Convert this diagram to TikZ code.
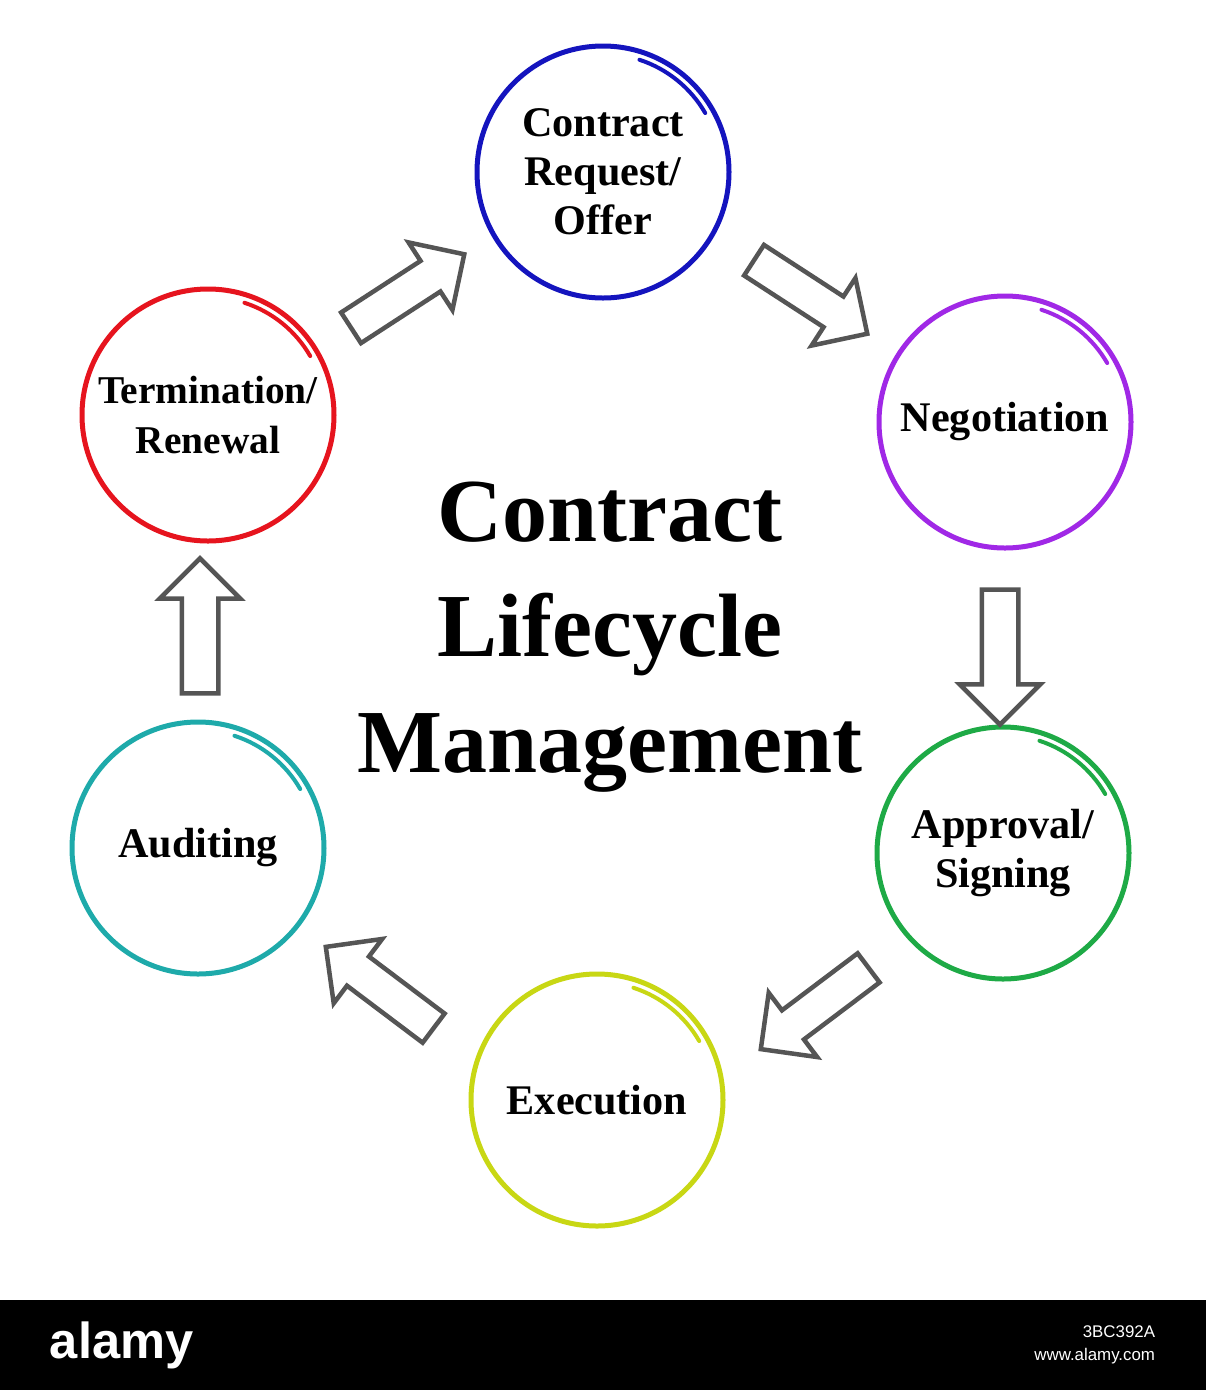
\documentclass[tikz,border=0pt]{standalone}
\usepackage{fontspec}
\setmainfont{Liberation Serif}
\newfontfamily\sansf{Liberation Sans}
\usetikzlibrary{shapes.arrows}
\definecolor{cblue}{RGB}{20,20,190}
\definecolor{cpurp}{RGB}{160,40,230}
\definecolor{cgreen}{RGB}{30,170,70}
\definecolor{cyel}{RGB}{200,215,20}
\definecolor{cteal}{RGB}{30,170,170}
\definecolor{cred}{RGB}{230,20,30}
\definecolor{agray}{RGB}{85,85,85}
\begin{document}
\begin{tikzpicture}[x=0.025cm,y=-0.025cm,
  stage/.style={circle,minimum size=252*0.025cm,line width=5*0.025cm,align=center,font=\bfseries\fontsize{30}{35}\selectfont,inner sep=0pt},
  flow/.style={single arrow,draw=agray,fill=white,line width=4.5*0.025cm,minimum height=135*0.025cm,minimum width=80*0.025cm,single arrow head extend=22*0.025cm,inner xsep=0pt,inner ysep=16*0.025cm,single arrow head indent=0pt}]
\useasboundingbox (0,0) rectangle (1206,1390);
\fill[white] (0,0) rectangle (1206,1390);
\node[stage,draw=cblue] (req) at (603,172) {Contract\\Request/\\Offer};
\node[stage,draw=cpurp] (neg) at (1005,422) {Negotiation};
\node[stage,draw=cgreen] (app) at (1003,853) {Approval/\\Signing};
\node[stage,draw=cyel] (exe) at (597,1100) {Execution};
\node[stage,draw=cteal] (aud) at (198,848) {Auditing};
\node[stage,draw=cred,font=\bfseries\fontsize{28}{35}\selectfont] (ter) at (208,415) {Termination/\\Renewal};
\foreach \n/\c in {req/cblue,neg/cpurp,app/cgreen,exe/cyel,aud/cteal,ter/cred}
  \draw[\c,line width=4*0.025cm,line cap=round] (\n.center) ++(30:118*0.025cm) arc[start angle=30,end angle=72,radius=118*0.025cm];
\node[flow,rotate=33] (a1) at (400,296) {};
\node[flow,rotate=-33] (a2) at (803,292) {};
\node[flow,rotate=-90] (a3) at (1000,648) {};
\node[flow,rotate=-143] (a4) at (822,1003) {};
\node[flow,rotate=143] (a5) at (387,993) {};
\node[flow,rotate=90] (a6) at (200,635) {};
\node[font=\bfseries\fontsize{64}{82}\selectfont,align=center] (title) at (610,637) {Contract\\Lifecycle\\Management};
\fill[black] (0,1300) rectangle (1206,1390);
\node[white,font=\sansf\bfseries\fontsize{36}{40}\selectfont,anchor=west] (brand) at (45,1345) {alamy};
\node[white,font=\sansf\fontsize{12}{16}\selectfont,align=right,anchor=east] (code) at (1160,1345) {3BC392A\\www.alamy.com};
\end{tikzpicture}
\end{document}
